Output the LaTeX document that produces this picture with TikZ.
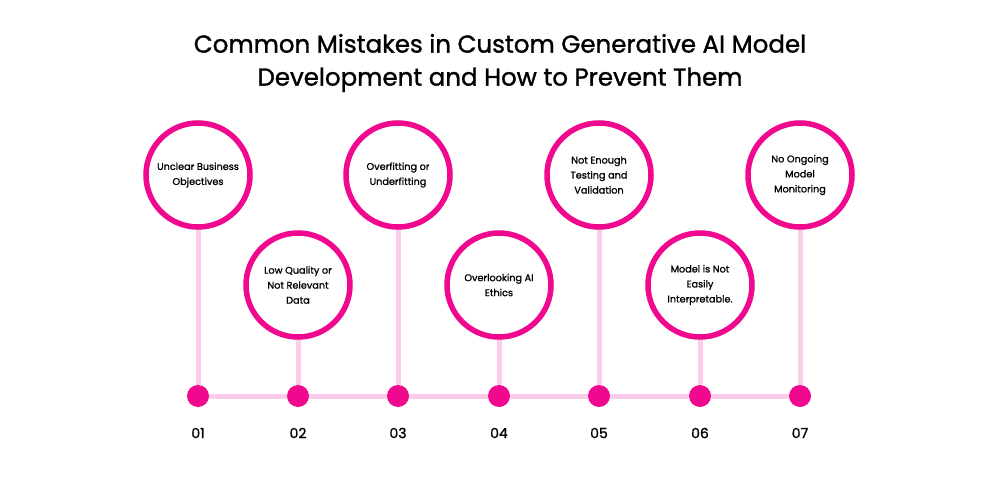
\documentclass[tikz,border=0pt]{standalone}
\usepackage{fontspec}
\setmainfont{Poppins}
\newfontfamily\med{Poppins}[FakeBold=1.2]
\definecolor{pk}{HTML}{F0088E}
\definecolor{lp}{HTML}{FBCDE8}
\begin{document}
\begin{tikzpicture}[x=1pt,y=-1pt,
  circ/.style={circle,draw=pk,line width=5.5pt,fill=white,minimum size=104pt,inner sep=0pt,align=center,font=\med\fontsize{9.7}{15}\selectfont\color{black}},
  dot/.style={circle,fill=pk,minimum size=22pt,inner sep=0pt},
  num/.style={font=\med\fontsize{14}{16}\selectfont},
  stem/.style={lp,line width=5pt}]
\useasboundingbox (0,0) rectangle (1000,500);
\node[font=\med\fontsize{24.5}{33}\selectfont,align=center] (title) at (500,63) {Common Mistakes in Custom Generative AI Model\\Development and How to Prevent Them};
\foreach \i/\x/\y/\t in {1/198/175/{Unclear Business\\Objectives},2/298/285/{Low Quality or\\Not Relevant\\Data},3/398/175/{Overfitting or\\Underfitting},4/499/285/{Overlooking AI\\Ethics},5/599/175/{Not Enough\\Testing and\\Validation},6/700/285/{Model is Not\\Easily\\Interpretable.},7/800/175/{No Ongoing\\Model\\Monitoring}}{
  \node[dot] (d\i) at (\x,396) {};
  \draw[stem] (\x,\y) -- (d\i);
  \node[circ] (c\i) at (\x,\y) {\t};
  \node[num] (n\i) at (\x,433) {0\i};
}
\foreach \a/\b in {1/2,2/3,3/4,4/5,5/6,6/7}{\draw[stem] (d\a) -- (d\b);}
\end{tikzpicture}
\end{document}
